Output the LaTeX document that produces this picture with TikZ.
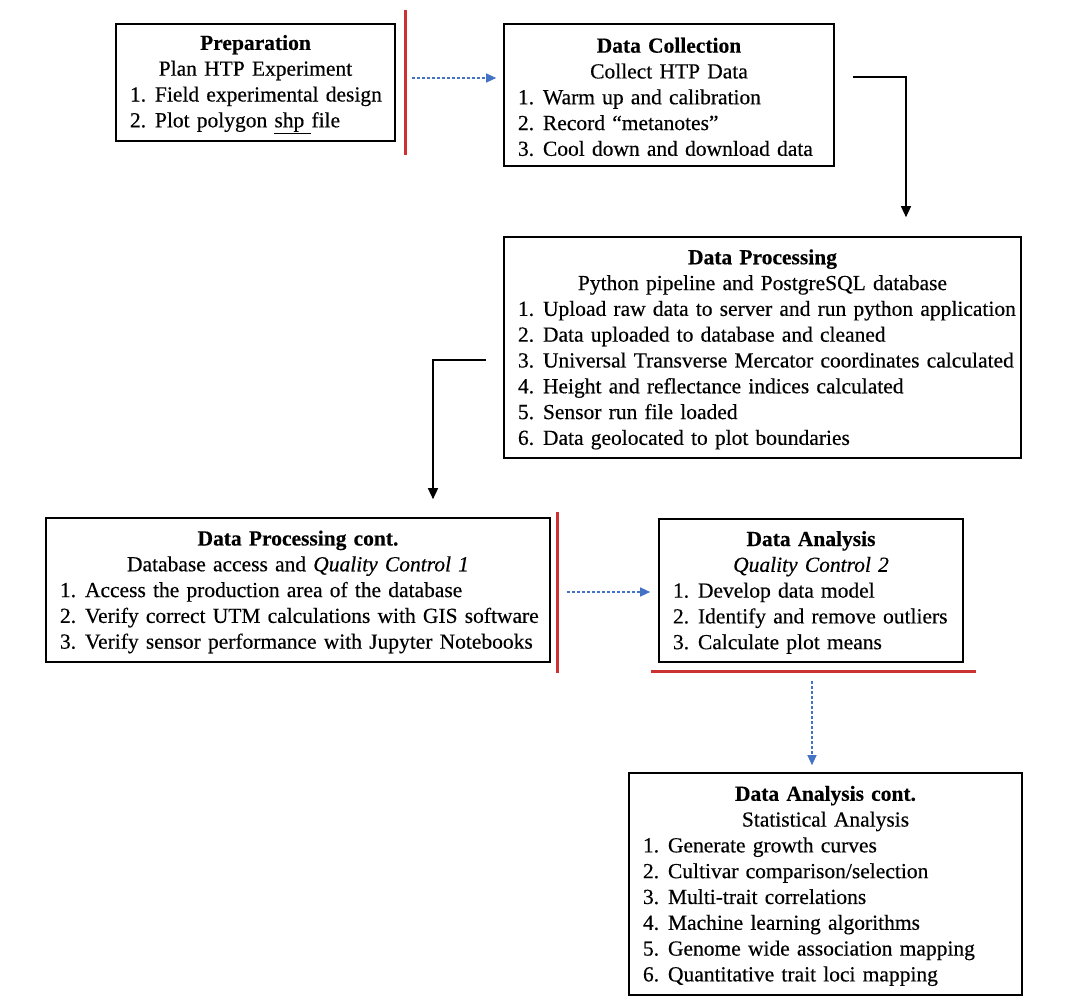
\documentclass[tikz,border=0pt]{standalone}
\usepackage{fontspec}
\setmainfont{Liberation Serif}[FakeBold=0.35]
\usetikzlibrary{arrows.meta,calc}
\definecolor{redline}{RGB}{205,50,50}
\definecolor{blueline}{RGB}{68,114,196}
\newcommand\hd[1]{\par\hbox to\hsize{\hfil#1\hfil}}
\newcommand\itm[2]{\par\hbox to\hsize{\makebox[25pt][l]{#1}#2\hfil}}
\tikzset{
 box/.style={draw, line width=1.6pt, inner xsep=14pt, inner ysep=0pt, font=\fontsize{21.5}{25.8}\selectfont, anchor=center, execute at end node={\par\kern7pt}},
 conn/.style={line width=1.3pt, -{Triangle[length=11pt,width=10pt]}},
 dasharrow/.style={blueline, line width=1.2pt, dash pattern=on 3pt off 2pt, -{Triangle[length=10pt,width=9pt]}},
 redbar/.style={redline, line width=3pt}
}
\begin{document}
\begin{tikzpicture}[x=1pt,y=-1pt]
\fill[white] (0,0) rectangle (1080,1008);
\useasboundingbox (0,0) rectangle (1080,1008);

\node[box, text width=251pt, minimum height=117pt] (prep) at (255.5,82.5) {%
\hd{\textbf{Preparation}}\hd{Plan HTP Experiment}%
\itm{1.}{Field experimental design}\itm{2.}{Plot polygon \underline{shp }file}};

\node[box, text width=302pt, minimum height=142pt] (coll) at (669,95) {%
\hd{\textbf{Data Collection}}\hd{Collect HTP Data}%
\itm{1.}{Warm up and calibration}\itm{2.}{Record “metanotes”}\itm{3.}{Cool down and download data}};

\node[box, text width=489pt, minimum height=221pt] (proc) at (762.5,347.5) {%
\hd{\textbf{Data Processing}}\hd{Python pipeline and PostgreSQL database}%
\itm{1.}{Upload raw data to server and run python application}%
\itm{2.}{Data uploaded to database and cleaned}%
\itm{3.}{Universal Transverse Mercator coordinates calculated}%
\itm{4.}{Height and reflectance indices calculated}%
\itm{5.}{Sensor run file loaded}%
\itm{6.}{Data geolocated to plot boundaries}};

\node[box, text width=476pt, minimum height=144pt] (proc2) at (298,590) {%
\hd{\textbf{Data Processing cont.}}\hd{Database access and \textit{Quality Control 1}}%
\itm{1.}{Access the production area of the database}%
\itm{2.}{Verify correct UTM calculations with GIS software}%
\itm{3.}{Verify sensor performance with Jupyter Notebooks}};

\node[box, text width=276pt, minimum height=143pt] (anal) at (811,590.5) {%
\hd{\textbf{Data Analysis}}\hd{\textit{Quality Control 2}}%
\itm{1.}{Develop data model}\itm{2.}{Identify and remove outliers}\itm{3.}{Calculate plot means}};

\node[box, text width=365pt, minimum height=222pt] (anal2) at (825.5,884) {%
\hd{\textbf{Data Analysis cont.}}\hd{Statistical Analysis}%
\itm{1.}{Generate growth curves}%
\itm{2.}{Cultivar comparison/selection}%
\itm{3.}{Multi-trait correlations}%
\itm{4.}{Machine learning algorithms}%
\itm{5.}{Genome wide association mapping}%
\itm{6.}{Quantitative trait loci mapping}};

% red bars
\draw[redbar] ($(prep.east)+(10,-72.5)$) -- ($(prep.east)+(10,72.5)$);
\draw[redbar] ($(proc2.east)+(7,-78)$) -- ($(proc2.east)+(7,83)$);
\draw[redbar] ($(anal.south west)+(-7,9)$) -- ($(anal.south east)+(12,9)$);

% connectors
\draw[dasharrow] ($(prep.east)+(16,-4.5)$) -- ($(coll.west)+(-7,-17)$);
\draw[conn] ($(coll.east)+(18,-18)$) -| ($(proc.north)+(143.5,-19)$);
\draw[conn] ($(proc.west)+(-17,12.5)$) -| ($(proc2.north)+(135,-18)$);
\draw[dasharrow] ($(proc2.east)+(16,2)$) -- ($(anal.west)+(-8,1.5)$);
\draw[dasharrow] ($(anal.south)+(1,18)$) -- ($(anal2.north)+(-13.5,-7)$);
\end{tikzpicture}
\end{document}
